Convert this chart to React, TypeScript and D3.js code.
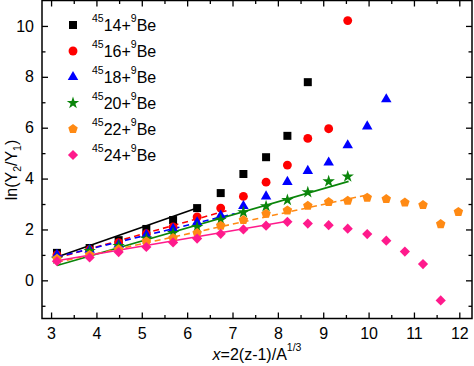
import React, { useEffect, useRef } from "react";
import * as d3 from "d3";

// shared x positions, x = 2(z-1)/A^(1/3)
const xVals = [3.13, 3.85, 4.49, 5.1, 5.69, 6.22, 6.74, 7.24, 7.74, 8.21, 8.66, 9.12, 9.54, 9.97, 10.39, 10.8, 11.2, 11.59, 11.98];

const y14 = [1.08, 1.27, 1.58, 2.02, 2.37, 2.84, 3.43, 4.18, 4.84, 5.68, 7.79];
const y16 = [1.0, 1.2, 1.48, 1.83, 2.1, 2.49, 2.84, 3.3, 3.86, 4.53, 5.58, 5.96, 10.21];
const y18 = [1.0, 1.2, 1.4, 1.79, 2.02, 2.28, 2.55, 2.92, 3.3, 3.87, 4.3, 4.63, 5.31, 6.05, 7.12];
const y20 = [0.85, 1.15, 1.35, 1.64, 1.86, 2.1, 2.38, 2.68, 2.91, 3.16, 3.46, 3.89, 4.08];
const y22 = [0.85, 1.0, 1.22, 1.53, 1.66, 1.86, 2.15, 2.37, 2.62, 2.75, 2.93, 3.08, 3.13, 3.25, 3.2, 3.06, 2.96, 2.21, 2.69];
const y24 = [0.75, 0.9, 1.11, 1.31, 1.49, 1.64, 1.83, 2.0, 2.15, 2.3, 2.23, 2.17, 2.03, 1.82, 1.56, 1.13, 0.64, -0.79];

// linear fits: [x start, x end], [y start, y end]
const fit14 = { x: [3.13, 6.22], y: [0.92, 2.84] };
const fit16 = { x: [3.13, 6.95], y: [0.88, 2.78] };
const fit18 = { x: [3.13, 7.05], y: [0.92, 2.62] };
const fit20 = { x: [3.13, 9.56], y: [0.58, 3.89] };
const fit22 = { x: [3.13, 9.97], y: [0.71, 3.36] };
const fit24 = { x: [3.13, 8.21], y: [0.77, 2.32] };

const labels = ["14", "16", "18", "20", "22", "24"];

const xTicks = [3, 4, 5, 6, 7, 8, 9, 10, 11, 12];
const xMinor = [3.5, 4.5, 5.5, 6.5, 7.5, 8.5, 9.5, 10.5, 11.5];
const yTicks = [0, 2, 4, 6, 8, 10];
const yMinor = [-1, 1, 3, 5, 7, 9];

type Shape = "square" | "circle" | "triangle" | "star" | "pentagon" | "diamond";

const series: { ys: number[]; fit: { x: number[]; y: number[] }; color: string; shape: Shape; dashed: boolean }[] = [
  { ys: y14, fit: fit14, color: "#000000", shape: "square", dashed: false },
  { ys: y16, fit: fit16, color: "#ff0000", shape: "circle", dashed: true },
  { ys: y18, fit: fit18, color: "#0000ff", shape: "triangle", dashed: true },
  { ys: y20, fit: fit20, color: "#0a850a", shape: "star", dashed: false },
  { ys: y22, fit: fit22, color: "#ff8a14", shape: "pentagon", dashed: true },
  { ys: y24, fit: fit24, color: "#ff1a8c", shape: "diamond", dashed: false },
];

const pentagonPath = (r: number) => {
  const pts = d3.range(5).map((i) => {
    const a = -Math.PI / 2 + (i * 2 * Math.PI) / 5;
    return [r * Math.cos(a), r * Math.sin(a)];
  });
  return "M" + pts.map((p) => p.join(",")).join("L") + "Z";
};

const markerPath = (shape: Shape) => {
  switch (shape) {
    case "square":
      return d3.symbol(d3.symbolSquare, 64)()!;
    case "circle":
      return d3.symbol(d3.symbolCircle, 62)()!;
    case "triangle":
      return d3.symbol(d3.symbolTriangle, 48)()!;
    case "star":
      return d3.symbol(d3.symbolStar, 48)()!;
    case "pentagon":
      return pentagonPath(5);
    case "diamond":
    default:
      return d3.symbol(d3.symbolSquare, 52)()!;
  }
};

const W = 474;
const H = 366;
const font = "'Liberation Sans', Arial, sans-serif";

const App: React.FC = () => {
  const ref = useRef<SVGSVGElement>(null);

  useEffect(() => {
    if (!ref.current) return;
    const svg = d3.select(ref.current);
    svg.selectAll("*").remove();

    const left = 42, right = 472, top = 0.5, bottom = 318.5;
    const x = d3.scaleLinear().domain([2.8, 12.28]).range([left, right]);
    const y = d3.scaleLinear().domain([-1.5, 11]).range([bottom, top]);

    const g = svg.append("g");

    // fit lines
    series.forEach((s) => {
      const pts = s.fit.x.map((v, i) => [v, s.fit.y[i]] as [number, number]);
      g.append("path")
        .attr("d", d3.line().x((d) => x(d[0])).y((d) => y(d[1]))(pts))
        .attr("fill", "none")
        .attr("stroke", s.color)
        .attr("stroke-width", 1.6)
        .attr("stroke-dasharray", s.dashed ? "6,4" : null);
    });

    // markers
    series.forEach((s) => {
      const path = markerPath(s.shape);
      g.selectAll(null)
        .data(s.ys)
        .enter()
        .append("path")
        .attr("d", path)
        .attr("transform", (d, i) => `translate(${x(xVals[i])},${y(d)})${s.shape === "diamond" ? " rotate(45)" : ""}`)
        .attr("fill", s.color);
    });

    // axes (ticks inward)
    const styleAxis = (sel: d3.Selection<SVGGElement, unknown, null, undefined>) => {
      sel.select(".domain").remove();
      sel.selectAll("line").attr("stroke", "#000").attr("stroke-width", 1.3);
      sel.selectAll("text").attr("font-family", font).attr("font-size", 16).attr("fill", "#000");
    };

    g.append("g")
      .attr("transform", `translate(0,${bottom})`)
      .call(d3.axisBottom(x).tickValues(xTicks).tickSize(-6).tickPadding(9).tickFormat(d3.format("d")))
      .call(styleAxis);
    g.append("g")
      .attr("transform", `translate(0,${bottom})`)
      .call(d3.axisBottom(x).tickValues(xMinor).tickSize(-3.5).tickFormat(() => ""))
      .call(styleAxis);
    g.append("g")
      .attr("transform", `translate(0,${top})`)
      .call(d3.axisTop(x).tickValues(xTicks).tickSize(-6).tickFormat(() => ""))
      .call(styleAxis);
    g.append("g")
      .attr("transform", `translate(0,${top})`)
      .call(d3.axisTop(x).tickValues(xMinor).tickSize(-3.5).tickFormat(() => ""))
      .call(styleAxis);

    g.append("g")
      .attr("transform", `translate(${left},0)`)
      .call(d3.axisLeft(y).tickValues(yTicks).tickSize(-6).tickPadding(8).tickFormat(d3.format("d")))
      .call(styleAxis);
    g.append("g")
      .attr("transform", `translate(${left},0)`)
      .call(d3.axisLeft(y).tickValues(yMinor).tickSize(-3.5).tickFormat(() => ""))
      .call(styleAxis);
    g.append("g")
      .attr("transform", `translate(${right},0)`)
      .call(d3.axisRight(y).tickValues(yTicks).tickSize(-6).tickFormat(() => ""))
      .call(styleAxis);
    g.append("g")
      .attr("transform", `translate(${right},0)`)
      .call(d3.axisRight(y).tickValues(yMinor).tickSize(-3.5).tickFormat(() => ""))
      .call(styleAxis);

    // frame
    g.append("rect")
      .attr("x", left)
      .attr("y", top)
      .attr("width", right - left)
      .attr("height", bottom - top)
      .attr("fill", "none")
      .attr("stroke", "#000")
      .attr("stroke-width", 1.5);

    // legend
    const legend = g.append("g");
    series.forEach((s, i) => {
      const cy = 25 + i * 26;
      legend
        .append("path")
        .attr("d", markerPath(s.shape))
        .attr("transform", `translate(73,${cy})${s.shape === "diamond" ? " rotate(45)" : ""}`)
        .attr("fill", s.color);
      const t = legend
        .append("text")
        .attr("x", 92)
        .attr("y", cy + 6)
        .attr("font-family", font)
        .attr("font-size", 16)
        .attr("fill", "#000");
      t.append("tspan").attr("font-size", 10.5).attr("dy", -9).text("45");
      t.append("tspan").attr("dy", 9).text(`${labels[i]}+`);
      t.append("tspan").attr("font-size", 10.5).attr("dy", -9).text("9");
      t.append("tspan").attr("dy", 9).text("Be");
    });

    // axis titles
    const xt = g
      .append("text")
      .attr("x", (left + right) / 2)
      .attr("y", 360)
      .attr("text-anchor", "middle")
      .attr("font-family", font)
      .attr("font-size", 16)
      .attr("fill", "#000");
    xt.append("tspan").attr("font-style", "italic").text("x");
    xt.append("tspan").text("=2(z-1)/A");
    xt.append("tspan").attr("font-size", 10.5).attr("dy", -9).text("1/3");

    const yt = g
      .append("text")
      .attr("transform", "translate(17,170) rotate(-90)")
      .attr("text-anchor", "middle")
      .attr("font-family", font)
      .attr("font-size", 16)
      .attr("fill", "#000");
    yt.append("tspan").text("ln(Y");
    yt.append("tspan").attr("font-size", 10.5).attr("dy", 4).text("2");
    yt.append("tspan").attr("dy", -4).text("/Y");
    yt.append("tspan").attr("font-size", 10.5).attr("dy", 4).text("1");
    yt.append("tspan").attr("dy", -4).text(")");
  }, []);

  return (
    <svg
      ref={ref}
      width={W}
      height={H}
      style={{ position: "absolute", left: 0, top: 0, background: "#fff" }}
    />
  );
};

export default App;
